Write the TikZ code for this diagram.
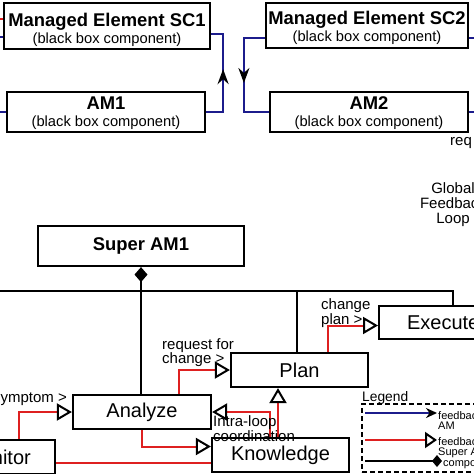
\documentclass[tikz,border=0pt]{standalone}
\usepackage{fontspec}
\setmainfont{Liberation Sans}
\usetikzlibrary{arrows.meta,decorations.markings,calc}
\definecolor{fbblue}{RGB}{28,28,140}
\definecolor{fbred}{RGB}{222,32,32}
\begin{document}
\begin{tikzpicture}[x=1pt,y=-1pt,
  box/.style={draw, line width=2.2pt, rectangle, inner sep=0pt, align=center, fill=white},
  twoline/.style={box, font=\fontsize{14.7}{17}\selectfont},
  mape/.style={box, font=\fontsize{20}{22}\selectfont},
  bl/.style={draw=fbblue, line width=2pt},
  rd/.style={draw=fbred, line width=2pt},
  blk/.style={draw=black, line width=2pt},
  lbl/.style={inner sep=0pt, font=\fontsize{15}{13}\selectfont, align=left},
  legtxt/.style={lbl, font=\fontsize{11}{10}\selectfont},
  tri/.tip={Triangle[length=15pt,width=17pt,line width=2pt,color=black,fill=white]},
  stl/.tip={Stealth[length=15pt,width=11pt,color=black]},
  upmark/.style={postaction=decorate, decoration={markings, mark=at position #1 with {\arrow{stl}}}}
]
\useasboundingbox (0,0) rectangle (474,474);
\clip (0,0) rectangle (474,474);

% top: managed elements and AMs
\node[twoline, minimum width=206pt, minimum height=46pt] (sc1) at (107,26)
  {\rule{0pt}{21pt}{\bfseries\fontsize{18.4}{17}\selectfont Managed Element SC1}\\(black box component)};
\node[twoline, minimum width=198pt, minimum height=40pt] (am1) at (106,112)
  {\rule{0pt}{16pt}{\bfseries\fontsize{18.4}{17}\selectfont AM1}\\(black box component)};
\node[twoline, minimum width=202pt, minimum height=45pt] (sc2) at (367,25.5)
  {\rule{0pt}{19pt}{\bfseries\fontsize{18.4}{17}\selectfont Managed Element SC2}\\(black box component)};
\node[twoline, minimum width=198pt, minimum height=40pt] (am2) at (369,112)
  {\rule{0pt}{16pt}{\bfseries\fontsize{18.4}{17}\selectfont AM2}\\(black box component)};

% blue feedback loops
\draw[bl, upmark=0.56] (am1.east) -- ++(17,0) |- ([yshift=-8pt]sc1.east);
\draw[bl, upmark=0.55] ([yshift=-12.5pt]sc2.west) -- ++(-21,0) |- (am2.west);
\draw[rd] ([yshift=7pt]sc1.west) -- ++(-10,0);
\draw[bl] ([yshift=-11pt]sc1.west) -- ++(-10,0);
\draw[bl] (am1.west) -- ++(-10,0);
\draw[bl] (am2.east) -- ++(10,0);
\draw[bl] ([yshift=-12.5pt]sc2.east) -- ++(10,0);

\node[lbl, anchor=base west] (req) at (450,145) {req};
\node[lbl, anchor=north, align=center, font=\fontsize{15}{15}\selectfont] (glob) at (453,182) {Global\\Feedback\\Loop};

% Super AM1 and MAPE-K
\node[box, minimum width=206pt, minimum height=40pt, font=\bfseries\fontsize{18.4}{20}\selectfont] (super) at (141,246) {Super AM1};
\node[mape, anchor=west, minimum height=33pt, inner xsep=28pt] (exec) at (378,322.5) {Execute};
\node[mape, minimum width=137pt, minimum height=34pt] (plan) at (299.5,370) {Plan};
\node[mape, minimum width=138pt, minimum height=34pt] (analyze) at (142,412) {Analyze};
\node[mape, minimum width=137pt, minimum height=34pt] (know) at (280.5,455) {Knowledge};
\node[mape, minimum width=115pt, minimum height=34pt] (mon) at (-2.5,457) {Monitor};

% composition (black)
\coordinate (busL) at (-10,291);
\draw[blk, {Diamond[length=15pt,width=13pt]}-] (super.south) -- (super.south |- analyze.north);
\draw[blk] (busL) -| ([xshift=75pt]exec.north west);
\draw[blk] ([xshift=-2.5pt]plan.north) -- ([xshift=-2.5pt]plan.north |- busL);

% red intra-loop connectors
\draw[rd, -tri] ([xshift=28.5pt]plan.north) |- ([yshift=-3pt]exec.west);
\draw[rd, -tri] ([xshift=37pt]analyze.north) |- (plan.west);
\draw[rd, -tri] ([xshift=21.5pt]mon.north) |- (analyze.west);
\draw[rd, -tri] (analyze.south) |- ([yshift=8.5pt]know.west);
\draw[rd] ([yshift=-8pt]know.west) -- ([yshift=-8pt]know.west -| mon.east);
\draw[rd, -tri] ([xshift=-10.5pt]know.north) |- (analyze.east);
\draw[rd, -tri] ([xshift=-2.5pt]know.north) -- ([xshift=-2.5pt]know.north |- plan.south);

% labels
\node[lbl, anchor=north west] (lchg) at (321,298) {change\\plan >};
\node[lbl, anchor=north west, font=\fontsize{15}{14}\selectfont] (lreq) at (162,338) {request for\\change >};
\node[lbl, anchor=base east] (lsym) at (67,402) {symptom >};
\node[lbl, anchor=north west, font=\fontsize{15}{11.5}\selectfont] (lintra) at (213,415) {Intra-loop\\coordination};

% legend
\node[draw, line width=2pt, dash pattern=on 5pt off 3pt, anchor=north west, minimum width=160pt, minimum height=68pt, inner sep=0pt] (legend) at (361,403) {};
\node[lbl, anchor=base west, font=\fontsize{13.8}{14}\selectfont] (legt) at (362,401) {Legend};
\coordinate (l1a) at (365,413); \coordinate (l1b) at (437,413);
\coordinate (l2a) at (365,440); \coordinate (l2b) at (437,440);
\coordinate (l3a) at (365,461); \coordinate (l3b) at (442,461);
\draw[bl, -{Stealth[length=11pt,width=10pt,color=black]}] (l1a) -- (l1b);
\draw[rd, -{Triangle[length=12pt,width=16pt,line width=2pt,color=black,fill=white]}] (l2a) -- (l2b);
\draw[blk, -{Diamond[length=10pt,width=12pt]}] (l3a) -- (l3b);
\node[legtxt, anchor=base west] (t1) at (438,429.5) {feedback of\\AM};
\node[legtxt, anchor=base west] (t2) at (438,455.5) {feedback of\\Super AM};
\node[legtxt, anchor=base west] (t3) at (443,466) {composition};
\end{tikzpicture}
\end{document}
